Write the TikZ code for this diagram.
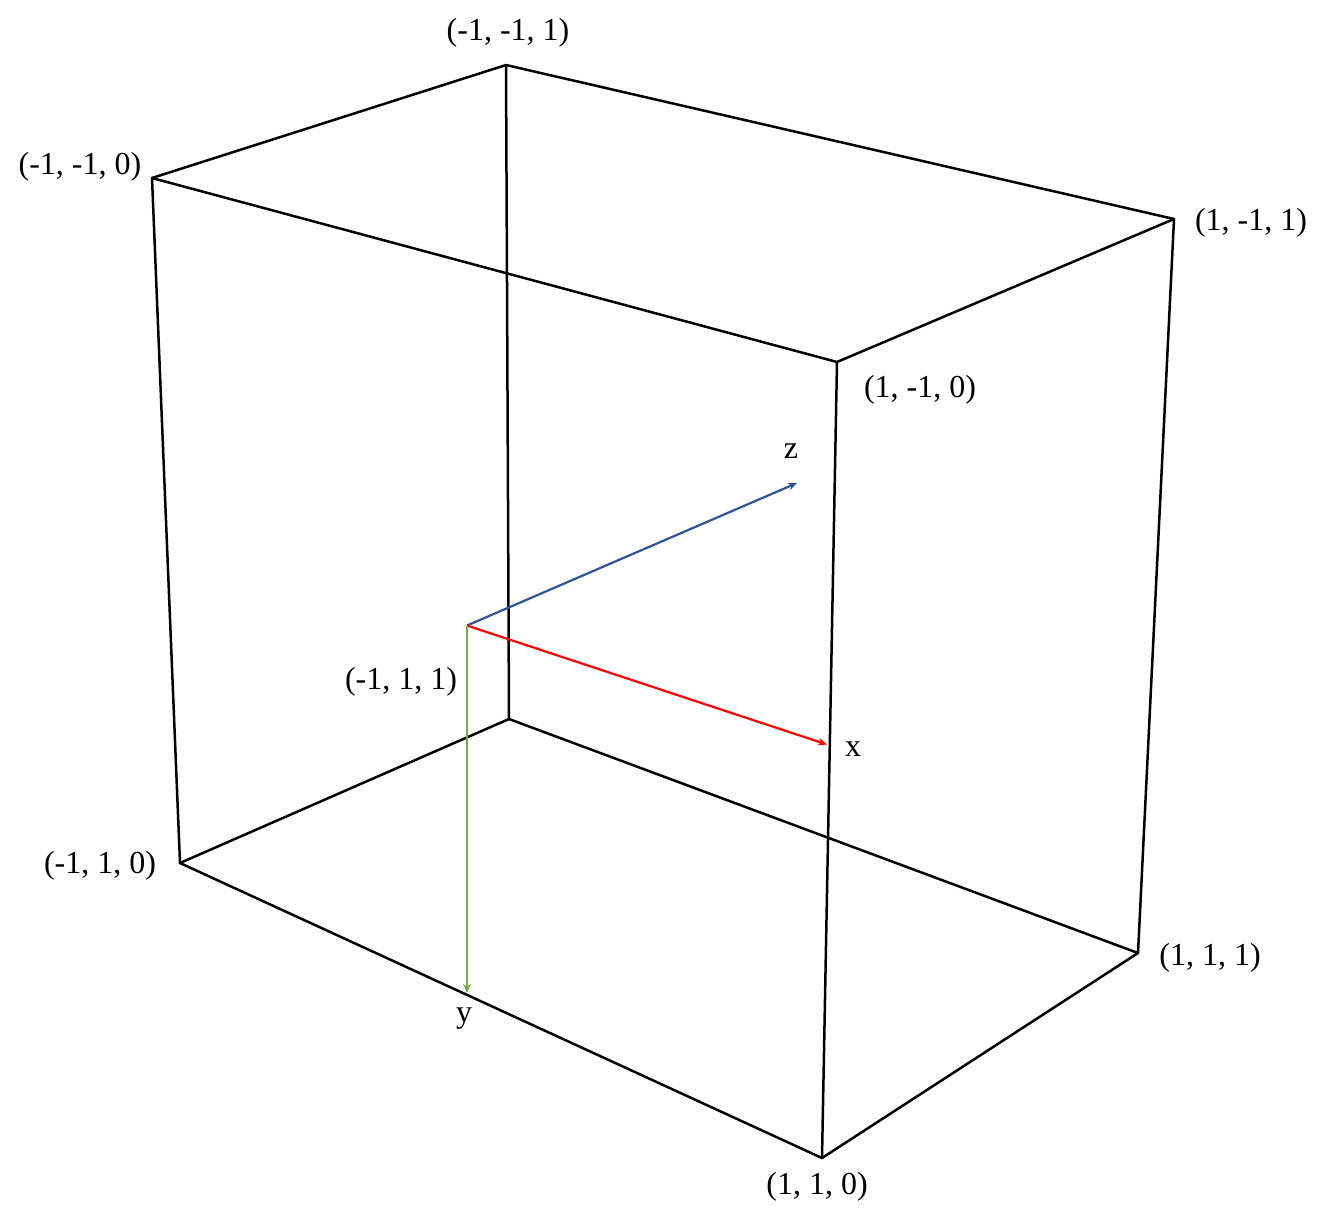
\documentclass[tikz,border=0pt]{standalone}
\usepackage{fontspec}
\setmainfont{Liberation Serif}
\usetikzlibrary{arrows.meta}
\definecolor{zblue}{HTML}{2F5597}
\definecolor{xred}{HTML}{FF0000}
\definecolor{ygreen}{HTML}{70AD47}
\begin{document}
\begin{tikzpicture}[x=0.5pt,y=-0.5pt,
  edge/.style={draw=black,line width=1.25pt,line cap=round,line join=round},
  axis/.style={line width=1.1pt,-{Stealth[length=4.5pt,width=3.8pt]}},
  lbl/.style={font=\fontsize{16pt}{19pt}\selectfont,inner sep=0pt,anchor=center}]
\useasboundingbox (0,0) rectangle (1327,1222);
% cube vertices
\coordinate (A) at (506,65);    % (-1,-1,1)
\coordinate (B) at (152,178);   % (-1,-1,0)
\coordinate (C) at (1174,219);  % (1,-1,1)
\coordinate (D) at (837,362);   % (1,-1,0)
\coordinate (F) at (509,719);   % back bottom
\coordinate (E) at (180,863);   % (-1,1,0)
\coordinate (G) at (1138,953);  % (1,1,1)
\coordinate (H) at (822,1158);  % (1,1,0)
% axes
\coordinate (O) at (467,625.5);
\coordinate (Zt) at (797,483);
\coordinate (Xt) at (827,744.5);
\coordinate (Yt) at (467,993);
% edges
\draw[edge] (A) -- (B);
\draw[edge] (A) -- (C);
\draw[edge] (B) -- (D);
\draw[edge] (C) -- (D);
\draw[edge] (A) -- (F);
\draw[edge] (B) -- (E);
\draw[edge] (D) -- (H);
\draw[edge] (C) -- (G);
\draw[edge] (E) -- (F);
\draw[edge] (F) -- (G);
\draw[edge] (E) -- (H);
\draw[edge] (G) -- (H);
\draw[axis,zblue] (O) -- (Zt);
\draw[axis,xred] (O) -- (Xt);
\draw[axis,ygreen] (O) -- (Yt);
% labels
\node[lbl] (lA) at (508,33) {(-1, -1, 1)};
\node[lbl] (lB) at (80,167) {(-1, -1, 0)};
\node[lbl] (lC) at (1251,223) {(1, -1, 1)};
\node[lbl] (lD) at (920,390) {(1, -1, 0)};
\node[lbl] (lz) at (791,451) {z};
\node[lbl] (lO) at (401,682) {(-1, 1, 1)};
\node[lbl] (lx) at (853,749) {x};
\node[lbl] (lE) at (100,866) {(-1, 1, 0)};
\node[lbl] (lG) at (1210,958) {(1, 1, 1)};
\node[lbl] (ly) at (464,1019) {y};
\node[lbl] (lH) at (817,1187) {(1, 1, 0)};
\end{tikzpicture}
\end{document}
